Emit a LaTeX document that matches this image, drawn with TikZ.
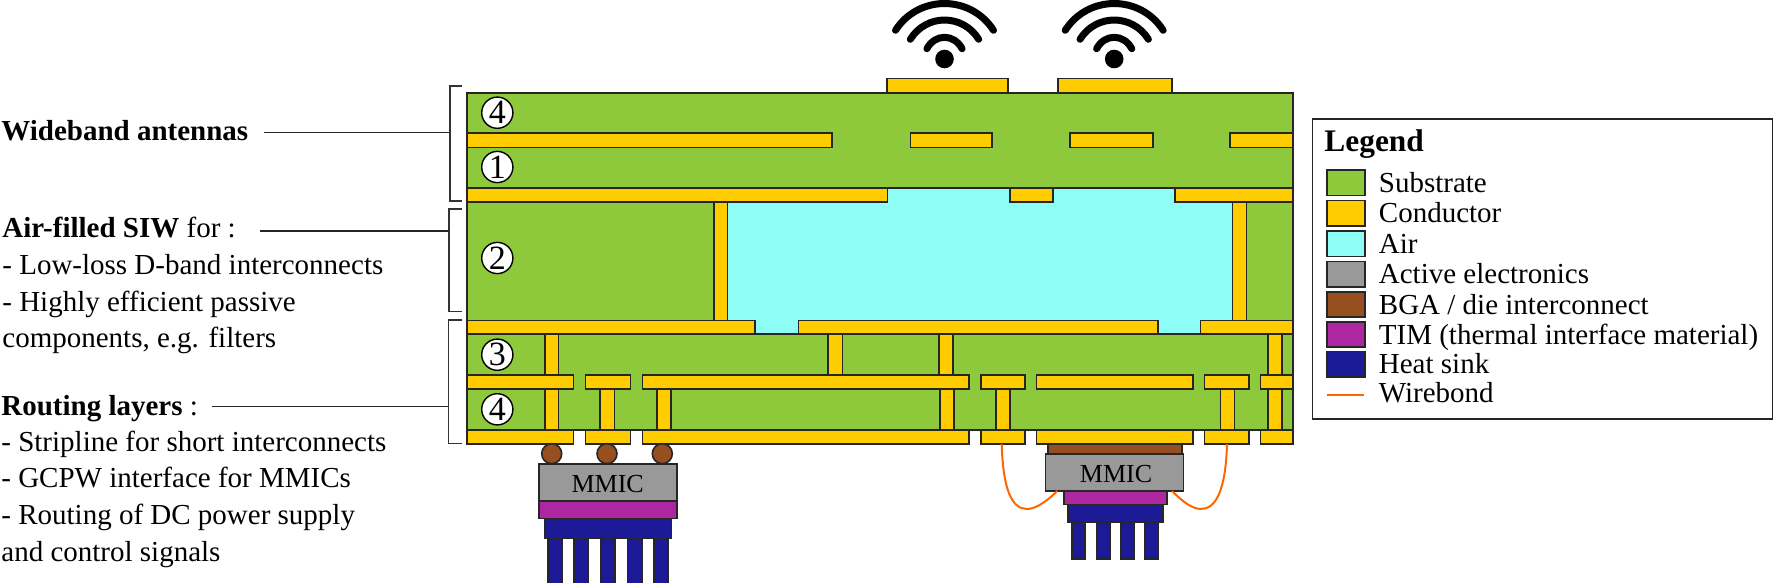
\documentclass[tikz,border=0pt]{standalone}
\usepackage{fontspec}
\setmainfont{Liberation Serif}
\definecolor{substcol}{RGB}{141,201,58}
\definecolor{condcol}{RGB}{255,204,0}
\definecolor{aircol}{RGB}{142,253,245}
\definecolor{chipcol}{RGB}{153,153,153}
\definecolor{bgacol}{RGB}{150,79,30}
\definecolor{timcol}{RGB}{174,38,160}
\definecolor{sinkcol}{RGB}{28,26,150}
\definecolor{bondcol}{RGB}{255,102,0}
\tikzset{
  outl/.style={draw=black!85,line width=0.8pt},
  subst/.style={outl,fill=substcol},
  cond/.style={outl,fill=condcol},
  airgap/.style={outl,fill=aircol},
  chip/.style={outl,fill=chipcol},
  bga/.style={outl,fill=bgacol},
  tim/.style={outl,fill=timcol},
  sink/.style={outl,fill=sinkcol},
  wirebond/.style={draw=bondcol,line width=1pt},
  bracket/.style={draw=black!80,line width=0.75pt},
  leader/.style={draw=black!85,line width=0.75pt},
  txt/.style={anchor=base west,inner sep=0pt,yshift=-0.6pt},
  layernum/.style={circle,draw=black,fill=white,line width=0.7pt,minimum size=15.6pt,inner sep=0pt,
    font=\fontsize{17}{17}\selectfont},
  mmiclabel/.style={anchor=base,inner sep=0pt,yshift=-0.6pt,font=\fontsize{13}{15}\selectfont},
}
\begin{document}
\begin{tikzpicture}[x=0.5pt,y=-0.5pt, every node/.style={font=\fontsize{14.5}{17}\selectfont}]
  \useasboundingbox (0,0) rectangle (1773,583);
  % wifi symbols
  \foreach \wx in {944.5,1114.2} {
    \fill ({\wx},59) circle (9.3);
    \draw[line width=3.5pt,line cap=round] ({\wx-17.6},48.7) .. controls ({\wx-9.4},33.5) and ({\wx+9.4},33.5) .. ({\wx+17.6},48.7);
    \draw[line width=3.5pt,line cap=round] ({\wx-34.2},39.3) .. controls ({\wx-18.2},13.6) and ({\wx+18.2},13.6) .. ({\wx+34.2},39.3);
    \draw[line width=3.5pt,line cap=round] ({\wx-49},30.3) .. controls ({\wx-26.1},-5.4) and ({\wx+26.1},-5.4) .. ({\wx+49},30.3);
  }
  % substrate and air cavity
  \path[subst] (467,93) rectangle (1293,430);
  \path[airgap] (727.3,188) -- (1232.3,188) -- (1232.3,320.5) -- (1200.3,320.5) -- (1200.3,334)
    -- (1157.7,334) -- (1157.7,320.5) -- (798.3,320.5) -- (798.3,334) -- (755,334) -- (755,320.5)
    -- (727.3,320.5) -- cycle;
  % top patches
  \foreach \xa/\xb in {886.7/1008,1058/1172}
    \path[cond] (\xa,78.7) rectangle (\xb,93);
  % metal layers
  \foreach \xa/\xb in {467/832,910.3/991.7,1069.7/1152.7,1230/1293}
    \path[cond] (\xa,133) rectangle (\xb,147.5);
  \foreach \xa/\xb in {467/887.3,1009.7/1052.7,1175/1293}
    \path[cond] (\xa,188) rectangle (\xb,202);
  \foreach \xa/\xb in {467/755,798.3/1157.7,1200.3/1293}
    \path[cond] (\xa,320.5) rectangle (\xb,334);
  \foreach \xa/\xb in {467/573.3,585.3/630.3,642.3/969,981/1024.7,1036.3/1193,1204.3/1248.7,1260.3/1293} {
    \path[cond] (\xa,375) rectangle (\xb,389);
    \path[cond] (\xa,430) rectangle (\xb,443.7);
  }
  % vias
  \foreach \xa/\xb in {714/727.3,1232.3/1246.3}
    \path[cond] (\xa,202) rectangle (\xb,320.5);
  \foreach \xa/\xb in {544.7/558.3,828/842.3,938.7/952.7,1268/1282}
    \path[cond] (\xa,334) rectangle (\xb,375);
  \foreach \xa/\xb in {545/558.3,600/614.3,656.7/670.7,939.7/953.7,996/1010,1220.3/1234.3,1268/1282}
    \path[cond] (\xa,389) rectangle (\xb,430);
  % layer numbers
  \node[layernum] (num4a) at (497.3,112.7) {4};
  \node[layernum] (num1) at (497.3,167) {1};
  \node[layernum] (num2) at (497.3,258) {2};
  \node[layernum] (num3) at (497.3,354.7) {3};
  \node[layernum] (num4b) at (497.3,409.3) {4};
  % left package with balls
  \foreach \bx in {551.7,607,662.3}
    \path[bga] (\bx,453.7) circle (10);
  \path[chip] (538.7,463.7) rectangle (677,500.7);
  \node[mmiclabel] (mmicl) at (607.7,491.7) {MMIC};
  \path[tim] (538.7,500.7) rectangle (677,518.3);
  \foreach \xa/\xb in {547.7/561.7,574/588.3,600.7/615,627.3/641.7,653.7/668}
    \path[sink] (\xa,538.3) rectangle (\xb,586);
  \path[sink] (544.3,518.3) rectangle (671.3,538.3);
  % right package with wirebonds
  \path[bga] (1047.7,443.7) rectangle (1182,453.7);
  \path[chip] (1045.3,453.7) rectangle (1183.3,490.7);
  \node[mmiclabel] (mmicr) at (1116,481) {MMIC};
  \path[tim] (1063.7,490.7) rectangle (1166.7,504.3);
  \foreach \xa/\xb in {1072/1085,1096.3/1109.7,1120.7/1134,1145/1158.3}
    \path[sink] (\xa,522) rectangle (\xb,558.7);
  \path[sink] (1067.7,504.3) rectangle (1162.7,522);
  \path[wirebond] (1001.7,444) .. controls (1003,490) and (1012,509) .. (1027,509)
    .. controls (1036,509) and (1047,501) .. (1057.3,491);
  \path[wirebond] (1227,444) .. controls (1225.7,490) and (1216,509) .. (1201,509)
    .. controls (1192,509) and (1182,501) .. (1172,491);
  % brackets
  \path[bracket] (462,86) -- (450,86) -- (450,201) -- (462,201);
  \path[bracket] (462,209) -- (449,209) -- (449,311.7) -- (462,311.7);
  \path[bracket] (462,320) -- (448.3,320) -- (448.3,443.3) -- (462,443.3);
  \coordinate (brk1) at (450,132.7);
  \coordinate (brk2) at (449,231);
  \coordinate (brk3) at (448.3,406.7);
  \coordinate (lead1) at (264,132.7);
  \coordinate (lead2) at (260,231);
  \coordinate (lead3) at (212,406.7);
  \path[leader] (lead1) -- (brk1);
  \path[leader] (lead2) -- (brk2);
  \path[leader] (lead3) -- (brk3);
  % left texts
  \node[txt] (wide) at (1,139.3) {\textbf{Wideband antennas}};
  \node[txt] (siw) at (2,236) {\textbf{Air-filled SIW} for :};
  \node[txt] (siwa) at (2,273) {- Low-loss D-band interconnects};
  \node[txt] (siwb) at (2,310) {- Highly efficient passive};
  \node[txt] (siwc) at (2,346.7) {components, e.g. filters};
  \node[txt] (rout) at (1,414) {\textbf{Routing layers} :};
  \node[txt] (routa) at (1,450) {- Stripline for short interconnects};
  \node[txt] (routb) at (1,486.7) {- GCPW interface for MMICs};
  \node[txt] (routc) at (1,523.3) {- Routing of DC power supply};
  \node[txt] (routd) at (1,560) {and control signals};
  % legend
  \draw[draw=black!85,line width=0.8pt] (1312.3,119.3) rectangle (1772.3,419);
  \node[txt,font=\fontsize{15.7}{18}\selectfont\bfseries] (legtitle) at (1324,150.7) {Legend};
  \foreach \ya/\stl/\lab [count=\n] in {170/subst/Substrate,200.3/cond/Conductor,231/airgap/Air,
      261.3/chip/Active electronics,291.7/bga/{BGA / die interconnect},
      321.7/tim/{TIM (thermal interface material)},351.3/sink/Heat sink} {
    \path[\stl] (1326.7,\ya) rectangle ++(38.3,25.5);
    \node[txt] (leg\n) at (1378.5,\ya+21.2) {\lab};
  }
  \path[wirebond] (1326.7,395) -- (1364,395);
  \node[txt] (leg8) at (1378.5,401.7) {Wirebond};
\end{tikzpicture}
\end{document}
